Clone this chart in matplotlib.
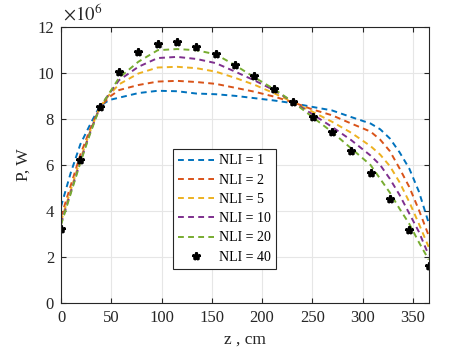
import numpy as np
import matplotlib
matplotlib.use('Agg')
import matplotlib.pyplot as plt

plt.rcParams['font.family'] = ['Liberation Serif', 'DejaVu Serif']
plt.rcParams['mathtext.fontset'] = 'stix'

# z positions (cm) of the simulated curves
z_line = [0, 9.6, 19.25, 28.9, 38.5, 48.1, 57.75, 77, 96.25, 115.5, 134.75,
          154, 173.25, 192.5, 211.75, 231, 250.25, 269.5, 288.75, 308, 317.6,
          327.25, 336.9, 346.5, 356.1, 365.76]

# power (x1e6 W) for each NLI value
p_nli1 = [4.2, 5.65, 6.9, 7.75, 8.55, 8.82, 8.92, 9.12, 9.22, 9.2, 9.1,
          9.07, 9.0, 8.9, 8.8, 8.68, 8.52, 8.37, 8.08, 7.8, 7.55,
          7.15, 6.55, 5.85, 4.85, 3.5]
p_nli2 = [3.75, 5.1, 6.45, 7.55, 8.5, 8.95, 9.25, 9.47, 9.62, 9.65, 9.6,
          9.52, 9.35, 9.18, 8.97, 8.72, 8.41, 8.16, 7.8, 7.45, 7.1,
          6.6, 5.85, 5.05, 4.05, 2.95]
p_nli5 = [3.55, 4.9, 6.25, 7.45, 8.5, 9.05, 9.5, 9.97, 10.23, 10.26, 10.2,
          10.05, 9.78, 9.48, 9.12, 8.72, 8.31, 7.88, 7.4, 6.82, 6.45,
          5.95, 5.25, 4.4, 3.45, 2.45]
p_nli10 = [3.45, 4.8, 6.15, 7.4, 8.5, 9.1, 9.68, 10.26, 10.64, 10.69, 10.6,
           10.42, 10.05, 9.67, 9.25, 8.73, 8.2, 7.66, 7.08, 6.41, 6.0,
           5.4, 4.7, 3.9, 3.1, 2.1]
p_nli20 = [3.4, 4.75, 6.1, 7.35, 8.48, 9.12, 9.78, 10.48, 10.98, 11.03, 10.98,
           10.8, 10.33, 9.8, 9.3, 8.73, 8.08, 7.44, 6.72, 6.0, 5.4,
           4.8, 4.1, 3.45, 2.65, 1.9]

# NLI = 40 markers
z_pts = [0, 19.25, 38.5, 57.75, 77, 96.25, 115.5, 134.75, 154, 173.25,
         192.5, 211.75, 231, 250.25, 269.5, 288.75, 308, 327.25, 346.5, 365.76]
p_nli40 = [3.21, 6.2, 8.51, 10.04, 10.91, 11.27, 11.33, 11.11, 10.81, 10.36,
           9.84, 9.31, 8.73, 8.09, 7.42, 6.6, 5.65, 4.51, 3.18, 1.63]

labels = ['NLI = 1', 'NLI = 2', 'NLI = 5', 'NLI = 10', 'NLI = 20', 'NLI = 40']
colors = ['#0072BD', '#D95319', '#EDB120', '#7E2F8E', '#77AC30']

fig = plt.figure(figsize=(4.74, 3.55), dpi=100)
ax = fig.add_axes([0.1287, 0.1456, 0.7755, 0.7792])

curves = [p_nli1, p_nli2, p_nli5, p_nli10, p_nli20]
for i in range(len(curves)):
    ax.plot(z_line, np.array(curves[i]), color=colors[i], lw=1.4,
            dashes=(3, 2.2), label=labels[i])
ax.plot(z_pts, np.array(p_nli40), ls='none', marker='*', ms=6, mew=1.8,
        color='k', label=labels[5])

ax.set_xlim(0, 365.76)
ax.set_ylim(0, 12)
ax.set_xticks(np.arange(0, 351, 50))
ax.set_yticks(np.arange(0, 13, 2))

dark = '#262626'
ax.grid(True, color='#e6e6e6', lw=0.8)
ax.set_axisbelow(True)
for s in ax.spines.values():
    s.set_color(dark)
    s.set_linewidth(0.8)
ax.tick_params(direction='in', top=True, right=True, length=3.5,
               colors=dark, labelsize=12, pad=5)

ax.set_xlabel('z , cm', fontsize=12.5, color=dark, labelpad=4)
ax.set_ylabel('P, W', fontsize=12.5, color=dark, labelpad=4)
ax.text(0.005, 1.008, r'$\times 10^6$', transform=ax.transAxes, ha='left',
        va='bottom', fontsize=13.5, color=dark)

leg = ax.legend(loc='lower left', bbox_to_anchor=(0.304, 0.123), fontsize=10,
                handlelength=2.6, labelspacing=0.45, borderpad=0.4,
                handletextpad=0.3, fancybox=False, framealpha=1,
                edgecolor=dark, borderaxespad=0)
leg.get_frame().set_linewidth(0.8)

fig.savefig('out.png', dpi=100)
